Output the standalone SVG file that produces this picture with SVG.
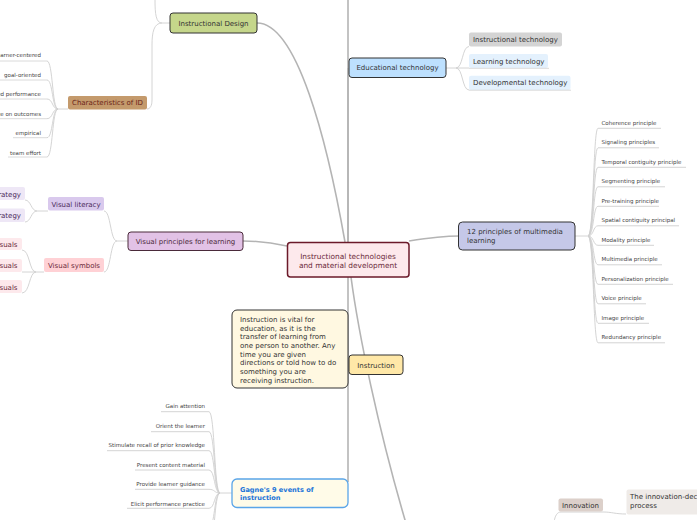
<svg xmlns="http://www.w3.org/2000/svg" width="697" height="520" viewBox="0 0 697 520">
<style>
text{font-family:"DejaVu Sans",Verdana,sans-serif;}
.t7{font-size:7px;fill:#333;}
.t5{font-size:5.5px;fill:#444;}
.main{fill:none;stroke:#b4b4b4;stroke-width:1.6;}
.sub{fill:none;stroke:#cfcfcf;stroke-width:0.9;}
.ul{stroke:#d6d6d6;stroke-width:0.9;}
.box{stroke:#333;stroke-width:1;}
.mid{text-anchor:middle;}
.end{text-anchor:end;}
</style>
<rect width="697" height="520" fill="#ffffff"/>
<g id="connectors">
<!-- main branches -->
<path class="main" d="M348,242 L348,0"/>
<path class="main" d="M348,242 L348,68"/>
<path class="main" d="M257,23 C297,23 327,140 345,242"/>
<path class="main" d="M243,241 C260,241 274,243 287,246"/>
<path class="main" d="M409,241 C428,238 444,236 459,236"/>
<path class="main" d="M348,277 L348,482"/>
<path class="main" d="M351,277 C358,330 378,430 408,530"/>
<!-- Instructional Design children -->
<path class="sub" d="M170,23 L162,23 C156,23 155,14 155,0"/>
<path class="sub" d="M162,23 C154,23 152,32 152,45 L152,100 C152,106 150,109 147,109"/>
<!-- Characteristics children -->
<path class="sub" d="M68,109 L58,109"/>
<path class="sub" d="M58,109 C52,109 53,61 47,61"/>
<path class="sub" d="M58,109 C52,109 53,80 47,80"/>
<path class="sub" d="M58,109 C52,109 53,99 47,99"/>
<path class="sub" d="M58,109 C52,109 53,118.7 47,118.7"/>
<path class="sub" d="M58,109 C52,109 53,137.7 47,137.7"/>
<path class="sub" d="M58,109 C52,109 53,157 47,157"/>
<line class="ul" x1="0" y1="61" x2="47" y2="61"/>
<line class="ul" x1="0" y1="80" x2="47" y2="80"/>
<line class="ul" x1="0" y1="99" x2="47" y2="99"/>
<line class="ul" x1="0" y1="118.7" x2="47" y2="118.7"/>
<line class="ul" x1="13" y1="137.7" x2="47" y2="137.7"/>
<line class="ul" x1="8" y1="157" x2="47" y2="157"/>
<!-- Visual principles children -->
<path class="sub" d="M128,241 L117,241 C110,241 111,211 104,211"/>
<path class="sub" d="M117,241 C110,241 111,272 104,272"/>
<path class="sub" d="M48,211 L37,211 C31,211 31,200 25,200"/>
<path class="sub" d="M37,211 C31,211 31,222 25,222"/>
<path class="sub" d="M44,272 L22,272"/>
<path class="sub" d="M36,272 C29,272 30,250 22,250"/>
<path class="sub" d="M36,272 C29,272 30,293 22,293"/>
<!-- Educational technology children -->
<path class="sub" d="M446,68 L456,68 C463,68 462,46.5 469,46.5"/>
<path class="sub" d="M456,68 L469,68"/>
<path class="sub" d="M456,68 C463,68 462,90 469,90"/>
<!-- 12 principles children -->
<path class="sub" d="M575,236 L588,236"/>
<path class="sub" d="M588,236 C594,236 593,128.3 598,128.3 L661,128.3"/>
<path class="sub" d="M588,236 C594,236 593,147.8 598,147.8 L659,147.8"/>
<path class="sub" d="M588,236 C594,236 593,167.3 598,167.3 L686,167.3"/>
<path class="sub" d="M588,236 C594,236 593,186.8 598,186.8 L665,186.8"/>
<path class="sub" d="M588,236 C594,236 593,206.3 598,206.3 L659,206.3"/>
<path class="sub" d="M588,236 C594,236 593,225.8 598,225.8 L679,225.8"/>
<path class="sub" d="M588,236 C594,236 593,245.3 598,245.3 L654,245.3"/>
<path class="sub" d="M588,236 C594,236 593,264.8 598,264.8 L662,264.8"/>
<path class="sub" d="M588,236 C594,236 593,284.3 598,284.3 L673,284.3"/>
<path class="sub" d="M588,236 C594,236 593,303.8 598,303.8 L646,303.8"/>
<path class="sub" d="M588,236 C594,236 593,323.3 598,323.3 L649,323.3"/>
<path class="sub" d="M588,236 C594,236 593,342.8 598,342.8 L665,342.8"/>
<!-- Gagne children -->
<path class="sub" d="M232,493 L220,493"/>
<path class="sub" d="M220,493 C214,493 215,411.7 209,411.7 L161,411.7"/>
<path class="sub" d="M220,493 C214,493 215,431.7 209,431.7 L151,431.7"/>
<path class="sub" d="M220,493 C214,493 215,450.7 209,450.7 L107,450.7"/>
<path class="sub" d="M220,493 C214,493 215,470 209,470 L135,470"/>
<path class="sub" d="M220,493 C214,493 215,489.3 209,489.3 L135,489.3"/>
<path class="sub" d="M220,493 C214,493 215,508.3 209,508.3 L127,508.3"/>
<path class="sub" d="M220,493 C214,493 215,527.6 209,527.6"/>
<path class="sub" d="M220,493 C214,493 215,547 209,547"/>
<!-- Innovation -->
<path class="sub" d="M603,512 L561,512 C557,512 555,516 554,522"/>
<path class="sub" d="M603,512 C612,512 615,514 626,514"/>
</g>

<g id="node-center">
<rect x="287.5" y="242.5" width="121.5" height="34.5" rx="3" fill="#fde9ec" stroke="#6b1a2a" stroke-width="1.5"/>
<text class="mid" x="348" y="259" font-size="7.4" fill="#6b2a3a">Instructional technologies</text>
<text class="mid" x="348" y="268" font-size="7.4" fill="#6b2a3a">and material development</text>
</g>

<g id="node-instructional-design">
<rect class="box" x="170" y="13" width="87" height="20" rx="3" fill="#c5d68b"/>
<text class="t7 mid" x="213.5" y="25.5">Instructional Design</text>
</g>

<g id="node-characteristics">
<rect x="68" y="96" width="79" height="13.5" rx="2" fill="#c49a6c"/>
<text class="mid" x="107.5" y="105.3" font-size="7" fill="#6b2418">Characteristics of ID</text>
</g>
<g id="char-items">
<text class="t5 end" x="41" y="57">learner-centered</text>
<text class="t5 end" x="41" y="77">goal-oriented</text>
<text class="t5 end" x="41" y="96">focuses on improved performance</text>
<text class="t5 end" x="41" y="116">emphasize on outcomes</text>
<text class="t5 end" x="41" y="135.3">empirical</text>
<text class="t5 end" x="41" y="155">team effort</text>
</g>

<g id="node-visual-principles">
<rect x="128" y="232" width="115" height="18.5" rx="3" fill="#e2c2e6" stroke="#4a2a3a" stroke-width="1"/>
<text class="mid" x="185.5" y="244" font-size="7" fill="#4a2a3a">Visual principles for learning</text>
</g>
<g id="node-visual-literacy">
<rect x="48" y="197" width="56" height="13.5" rx="2" fill="#d9c9ed"/>
<text class="mid" x="76" y="206.8" font-size="7" fill="#4a2a5a">Visual literacy</text>
</g>
<g id="node-visual-literacy-items">
<rect x="-5" y="187" width="30" height="13" rx="2" fill="#eee7f6"/>
<text class="end" x="21" y="196.5" font-size="7" fill="#4a2a5a">Encoding strategy</text>
<rect x="-5" y="208.5" width="30" height="13.5" rx="2" fill="#eee7f6"/>
<text class="end" x="21" y="218" font-size="7" fill="#4a2a5a">Decoding strategy</text>
</g>
<g id="node-visual-symbols">
<rect x="44" y="258" width="60" height="14" rx="2" fill="#ffd1d5"/>
<text class="mid" x="74" y="268" font-size="7" fill="#6b2a3a">Visual symbols</text>
</g>
<g id="node-visual-symbols-items">
<rect x="-5" y="238" width="27" height="12" rx="2" fill="#fde9ec"/>
<text class="end" x="17.5" y="246.5" font-size="7" fill="#6b2a3a">Realistic visuals</text>
<rect x="-5" y="259" width="27" height="13" rx="2" fill="#fde9ec"/>
<text class="end" x="17.5" y="268" font-size="7" fill="#6b2a3a">Analogy visuals</text>
<rect x="-5" y="280" width="27" height="13" rx="2" fill="#fde9ec"/>
<text class="end" x="17.5" y="290" font-size="7" fill="#6b2a3a">Organizational visuals</text>
</g>

<g id="node-educational-technology">
<rect class="box" x="349" y="58" width="97" height="19.5" rx="3" fill="#bde0fe"/>
<text class="t7 mid" x="397.5" y="70">Educational technology</text>
</g>
<g id="node-edtech-items">
<rect x="469" y="32.5" width="93" height="14" rx="2" fill="#d4d4d4"/>
<text class="t7" x="473" y="42">Instructional technology</text>
<rect x="469" y="54" width="79" height="14" rx="2" fill="#e4f1fd"/>
<line class="ul" x1="469" y1="68.3" x2="549" y2="68.3"/>
<text class="t7" x="473" y="64">Learning technology</text>
<rect x="469" y="75.7" width="101.5" height="14.3" rx="2" fill="#e4f1fd"/>
<line class="ul" x1="469" y1="90.2" x2="571" y2="90.2"/>
<text class="t7" x="473" y="85.3">Developmental technology</text>
</g>

<g id="node-12-principles">
<rect class="box" x="458.5" y="222" width="116.5" height="28" rx="4" fill="#c5c8e8"/>
<text class="t7" x="467" y="234">12 principles of multimedia</text>
<text class="t7" x="467" y="243">learning</text>
</g>
<g id="principle-items">
<text class="t5" x="601.5" y="124.7">Coherence principle</text>
<text class="t5" x="601.5" y="144.2">Signaling principles</text>
<text class="t5" x="601.5" y="163.7">Temporal contiguity principle</text>
<text class="t5" x="601.5" y="183.2">Segmenting principle</text>
<text class="t5" x="601.5" y="202.7">Pre-training principle</text>
<text class="t5" x="601.5" y="222.2">Spatial contiguity principal</text>
<text class="t5" x="601.5" y="241.7">Modality principle</text>
<text class="t5" x="601.5" y="261.2">Multimedia principle</text>
<text class="t5" x="601.5" y="280.7">Personalization principle</text>
<text class="t5" x="601.5" y="300.2">Voice principle</text>
<text class="t5" x="601.5" y="319.7">Image principle</text>
<text class="t5" x="601.5" y="339.2">Redundancy principle</text>
</g>

<g id="node-instruction-note">
<rect class="box" x="232" y="310" width="116" height="78" rx="5" fill="#fff8e1"/>
<text class="t7" x="240" y="322" fill="#222">Instruction is vital for</text>
<text class="t7" x="240" y="330.7">education, as it is the</text>
<text class="t7" x="240" y="339.3">transfer of learning from</text>
<text class="t7" x="240" y="348">one person to another. Any</text>
<text class="t7" x="240" y="356.7">time you are given</text>
<text class="t7" x="240" y="365.3">directions or told how to do</text>
<text class="t7" x="240" y="374">something you are</text>
<text class="t7" x="240" y="382.7">receiving instruction.</text>
</g>

<g id="node-instruction">
<rect class="box" x="349" y="355" width="54" height="19.5" rx="3" fill="#ffe8a8"/>
<text class="t7 mid" x="376" y="367.8">Instruction</text>
</g>

<g id="node-gagne">
<rect x="232" y="479" width="116" height="28.5" rx="5" fill="#fffbe8" stroke="#5aa5e8" stroke-width="1.3"/>
<text x="240" y="491.8" font-size="6.6" font-weight="bold" fill="#1a73d8">Gagne's 9 events of</text>
<text x="240" y="500.2" font-size="6.6" font-weight="bold" fill="#1a73d8">instruction</text>
</g>
<g id="gagne-items">
<text class="t5 end" x="205" y="408">Gain attention</text>
<text class="t5 end" x="205" y="428">Orient the learner</text>
<text class="t5 end" x="205" y="447">Stimulate recall of prior knowledge</text>
<text class="t5 end" x="205" y="467">Present content material</text>
<text class="t5 end" x="205" y="486">Provide learner guidance</text>
<text class="t5 end" x="205" y="506">Elicit performance practice</text>
</g>

<g id="node-innovation">
<rect x="558.5" y="498.5" width="44.5" height="13" rx="2" fill="#dcd0ca"/>
<text class="t7 mid" x="580.5" y="507.8">Innovation</text>
</g>
<g id="node-innovation-decision">
<rect x="626.5" y="489.5" width="80" height="25" rx="2" fill="#efebe8"/>
<text class="t7" x="630" y="498.5">The innovation-decision</text>
<text class="t7" x="630" y="507.5">process</text>
</g>
</svg>
